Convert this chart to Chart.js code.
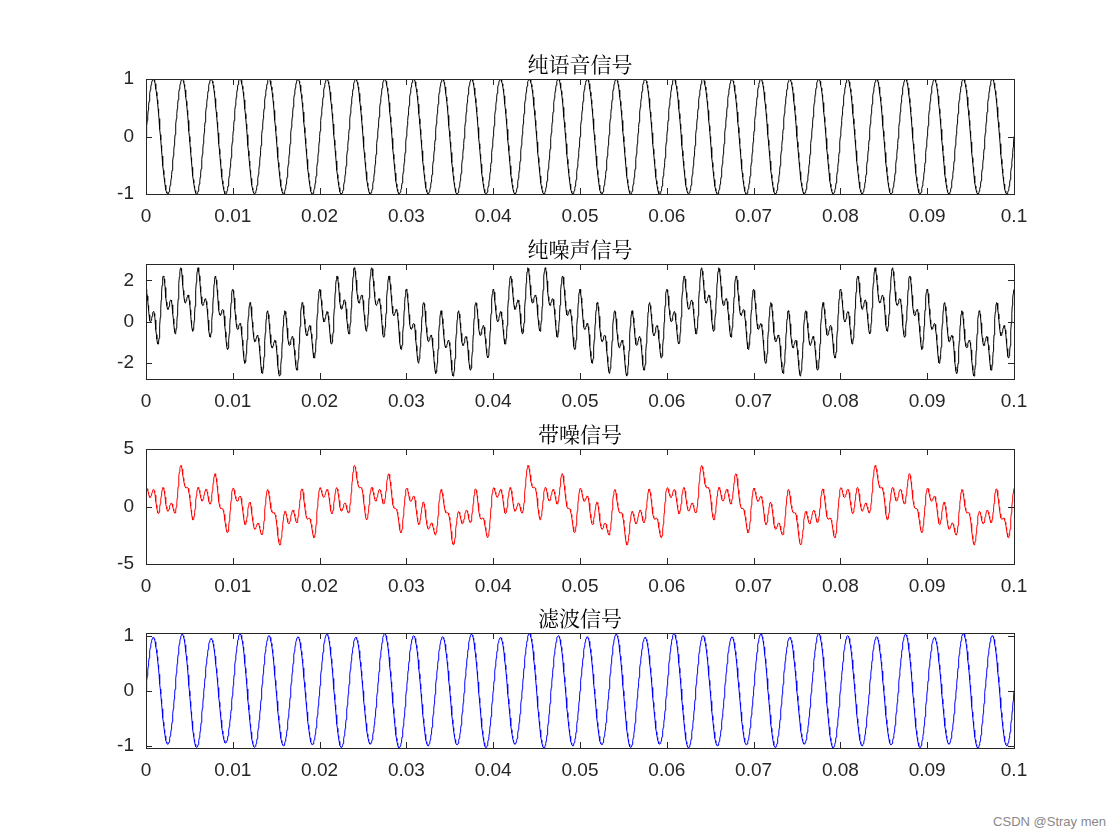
<!DOCTYPE html>
<html><head><meta charset="utf-8">
<script src="https://cdn.jsdelivr.net/npm/chart.js@4/dist/chart.umd.min.js"></script>
<style>body{margin:0;background:#fff;width:1120px;height:840px;position:relative;overflow:hidden}
canvas{position:absolute;left:0}
#wm{position:absolute;right:14px;top:814px;font:13px "Liberation Sans",Arial;color:#888}</style>
</head><body>
<canvas id="c0" width="1120" height="190" style="top:39px"></canvas>
<canvas id="c1" width="1120" height="190" style="top:224px"></canvas>
<canvas id="c2" width="1120" height="190" style="top:409px"></canvas>
<canvas id="c3" width="1120" height="190" style="top:593px"></canvas>
<div id="wm">CSDN @Stray men</div>
<script>
// values
const titles = ['纯语音信号','纯噪声信号','带噪信号','滤波信号'];
const xTicks = [0,0.01,0.02,0.03,0.04,0.05,0.06,0.07,0.08,0.09,0.1];
const yRanges = [[-1,1],[-2.8,2.8],[-5,5],[-1.04,1.05]];
const yTicks = [[-1,0,1],[-2,0,2],[-5,0,5],[-1,0,1]];
const colors = ['#000000','#000000','#ff0000','#0000ff'];
// speech tone: frequency (Hz), amplitude
const speechFreq = 300, speechAmp = 1;
// noise components: freq, amplitude, phase (rad, cosine)
const noiseFreqs  = [50, 500, 1000];
const noiseAmps   = [1.1, 1.0, 0.8];
const noisePhases = [-Math.PI/2, -0.6, -1.2+Math.PI/2];
// filtered output amplitude per tone cycle (30 cycles)
const filtAmps = [0.97,1.03,0.95,1.03,1.0,0.98,1.03,0.97,1.04,1.0,0.98,1.03,0.97,1.04,1.0,0.98,1.03,0.97,1.04,1.0,0.98,1.03,0.97,1.04,1.0,0.98,1.03,0.97,1.04,1.0];
const fs = 20000;

const t=[],pure=[],noise=[],noisy=[],filt=[];
for(let i=0;i<=fs*0.1;i++){
  const x=i/fs; t.push(x);
  const p=speechAmp*Math.sin(2*Math.PI*speechFreq*x);
  let n=0;
  for(let k=0;k<noiseFreqs.length;k++) n+=noiseAmps[k]*Math.cos(2*Math.PI*noiseFreqs[k]*x+noisePhases[k]);
  pure.push({x,y:p}); noise.push({x,y:n}); noisy.push({x,y:p+n});
  const c=Math.min(filtAmps.length-1,Math.floor(x*speechFreq));
  filt.push({x,y:filtAmps[c]*p});
}
const series=[pure,noise,noisy,filt];

const frame={id:'frame',afterDraw(ch){
  const {ctx,chartArea:a}=ch; const xs=ch.scales.x, ys=ch.scales.y;
  ctx.save(); ctx.strokeStyle='#262626'; ctx.lineWidth=1;
  ctx.strokeRect(a.left+0.5,a.top+0.5,a.right-a.left,a.bottom-a.top);
  xs.ticks.forEach(tk=>{const p=Math.round(xs.getPixelForValue(tk.value))+0.5;
    ctx.beginPath();ctx.moveTo(p,a.bottom);ctx.lineTo(p,a.bottom-6);ctx.moveTo(p,a.top);ctx.lineTo(p,a.top+6);ctx.stroke();});
  ys.ticks.forEach(tk=>{const p=Math.round(ys.getPixelForValue(tk.value))+0.5;
    ctx.beginPath();ctx.moveTo(a.left,p);ctx.lineTo(a.left+6,p);ctx.moveTo(a.right,p);ctx.lineTo(a.right-6,p);ctx.stroke();});
  ctx.fillStyle='#000';ctx.font='21px "Noto Serif CJK SC","Noto Sans CJK SC"';ctx.textAlign='center';ctx.textBaseline='bottom';
  ctx.fillText(ch.options.plugins.frame.title,(a.left+a.right)/2,a.top-4);
  ctx.restore();}};

series.forEach((d,i)=>{
  new Chart(document.getElementById('c'+i),{type:'line',
    data:{datasets:[{data:d,borderColor:colors[i],borderWidth:1,pointRadius:0,tension:0}]},
    plugins:[frame],
    options:{responsive:false,animation:false,parsing:false,
      layout:{padding:{top:40,right:106,left:0,bottom:0}},
      plugins:{legend:{display:false},tooltip:{enabled:false},frame:{title:titles[i]}},
      scales:{
        x:{type:'linear',min:0,max:0.1,afterBuildTicks:s=>{s.ticks=xTicks.map(v=>({value:v}));},
          afterFit:s=>{s.height=35;},
          grid:{display:false},border:{display:false},
          ticks:{color:'#262626',font:{family:'"Liberation Sans",Arial',size:19},padding:3,maxRotation:0,autoSkip:false,
            callback:v=>String(+v.toFixed(2))}},
        y:{min:yRanges[i][0],max:yRanges[i][1],afterBuildTicks:s=>{s.ticks=yTicks[i].map(v=>({value:v}));},
          afterFit:s=>{s.width=146;},
          grid:{display:false},border:{display:false},
          ticks:{color:'#262626',font:{family:'"Liberation Sans",Arial',size:19},padding:4}}
      }}});
});
</script></body></html>
